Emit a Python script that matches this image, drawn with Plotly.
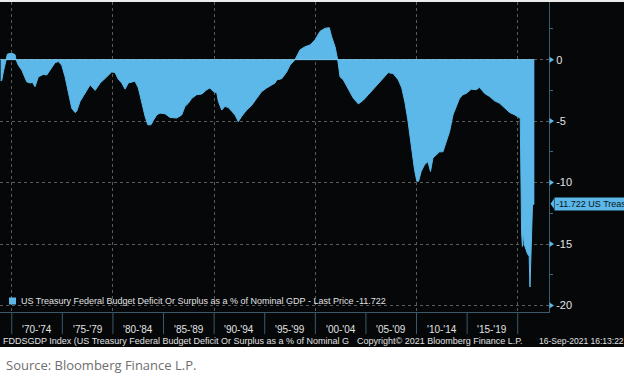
import plotly.graph_objects as go

# ---- data ----
years = [
    1968.90, 1969.01, 1969.17, 1969.44, 1969.57, 1969.80, 1970.10, 1970.33, 1970.42, 1970.65,
    1970.99, 1971.48, 1971.81, 1972.05, 1972.30, 1972.63, 1973.12, 1973.46, 1973.78, 1974.28,
    1974.60, 1974.94, 1975.27, 1975.59, 1975.93, 1976.25, 1976.42, 1976.75, 1977.25, 1977.75,
    1978.24, 1978.74, 1979.39, 1979.88, 1980.21, 1980.53, 1980.87, 1981.20, 1981.52, 1981.86,
    1982.18, 1982.51, 1982.85, 1983.17, 1983.44, 1983.76, 1983.99, 1984.33, 1984.65, 1985.15,
    1985.64, 1986.30, 1986.80, 1987.12, 1987.45, 1987.79, 1988.28, 1988.77, 1989.27, 1989.59,
    1989.92, 1990.26, 1990.42, 1990.75, 1991.08, 1991.40, 1991.74, 1992.07, 1992.39, 1992.73,
    1993.22, 1993.72, 1994.21, 1994.70, 1995.20, 1995.69, 1996.02, 1996.19, 1996.68, 1997.17,
    1997.50, 1997.99, 1998.49, 1998.98, 1999.48, 1999.97, 2000.46, 2000.96, 2001.38, 2001.62,
    2001.95, 2002.21, 2002.44, 2002.77, 2003.26, 2003.76, 2004.25, 2004.74, 2005.24, 2005.73,
    2006.23, 2006.72, 2007.21, 2007.71, 2008.20, 2008.54, 2008.86, 2009.14, 2009.47, 2009.80,
    2010.03, 2010.20, 2010.46, 2010.79, 2011.13, 2011.38, 2011.62, 2011.95, 2012.28, 2012.61,
    2012.94, 2013.27, 2013.60, 2013.92, 2014.25, 2014.58, 2014.91, 2015.41, 2015.90, 2016.23,
    2016.73, 2017.22, 2017.71, 2018.21, 2018.71, 2019.20, 2019.72, 2020.21, 2020.25, 2020.29,
    2020.38, 2020.46, 2020.55, 2020.63, 2020.71, 2020.80, 2020.88, 2020.96, 2021.05, 2021.13,
    2021.21, 2021.30, 2021.38, 2021.46, 2021.55, 2021.64,
]
values = [
    -1.7, -1.7, -1.0, -0.1, 0.45, 0.5, 0.5, 0.4, 0.0, -0.45,
    -0.85, -1.8, -1.9, -1.85, -2.2, -1.4, -1.2, -1.25, -0.85, -0.25,
    -0.15, -0.45, -1.4, -2.7, -3.95, -4.3, -4.2, -3.4, -2.7, -2.05,
    -2.5, -1.9, -1.4, -1.0, -1.05, -1.6, -1.9, -2.4, -1.9, -1.8,
    -1.75, -2.3, -3.55, -4.6, -5.3, -5.3, -4.95, -4.5, -4.35, -4.4,
    -4.7, -4.75, -4.5, -3.8, -3.55, -3.15, -2.85, -2.8, -2.45, -2.3,
    -2.6, -2.7, -3.4, -4.1, -3.8, -3.9, -4.2, -4.5, -5.05, -4.6,
    -4.1, -3.7, -3.15, -2.6, -2.3, -2.05, -1.9, -1.65, -1.55, -1.0,
    -0.45, 0.0, 0.8, 1.05, 1.2, 1.6, 2.3, 2.55, 2.6, 1.85,
    1.05, 0.0, -1.4, -1.65, -2.45, -3.15, -3.6, -3.3, -2.85, -2.4,
    -1.9, -1.5, -1.05, -1.15, -1.65, -2.3, -3.5, -4.9, -7.05, -8.95,
    -9.9, -9.9, -9.1, -8.55, -8.3, -9.1, -8.0, -7.75, -7.5, -7.5,
    -6.65, -5.85, -4.5, -3.8, -3.15, -2.85, -2.75, -2.4, -2.45, -2.25,
    -2.75, -3.0, -3.35, -3.55, -3.95, -4.3, -4.5, -4.75, -4.85, -10.9,
    -14.0, -15.2, -13.9, -15.0, -15.2, -15.5, -15.6, -15.8, -15.9, -16.0,
    -18.5, -16.2, -15.5, -11.8, -11.8, -11.722,
]
last_value = -11.722
y_ticks = [0, -5, -10, -15, -20]
grid_years = [1970, 1980, 1990, 2000, 2010, 2020]
band_edges = [1970, 1975, 1980, 1985, 1990, 1995, 2000, 2005, 2010, 2015, 2020]
band_labels = ["'70-'74", "'75-'79", "'80-'84", "'85-'89", "'90-'94",
               "'95-'99", "'00-'04", "'05-'09", "'10-'14", "'15-'19"]
legend_text = "US Treasury Federal Budget Deficit Or Surplus as a % of Nominal GDP - Last Price -11.722"
footer_left = "FDDSGDP Index (US Treasury Federal Budget Deficit Or Surplus as a % of Nominal G"
footer_mid = "Copyright\u00a9 2021 Bloomberg Finance L.P."
footer_right = "16-Sep-2021 16:13:22"
tag_text = "-11.722 US Treasu"
source_text = "Source: Bloomberg Finance L.P."

# ---- styling ----
W, H = 624, 377
ML, MR, MT, MB = 0, 75, 2, 65
PW, PH = W - ML - MR, H - MT - MB
BLUE = "#5bb8e8"
BG = "#050709"
AXC = "#3d5a6c"
GRID = "#5a5a5a"
TXT = "#e2e2e2"
FONT = "Liberation Sans, Arial, sans-serif"
Y0, Y1 = -20.53, 4.69
X0, X1 = 1968.84, 2023.09


def px_x(p):
    return (p - ML) / PW


def px_y(p):
    return (H - MB - p) / PH


fig = go.Figure()
fig.add_trace(go.Scatter(
    x=years, y=values, mode="lines", fill="tozeroy",
    line=dict(color=BLUE, width=1), fillcolor=BLUE,
    hoverinfo="skip", showlegend=False,
))

shapes = []
shapes.append(dict(type="rect", xref="paper", yref="paper", x0=-0.05, x1=1.3,
                   y0=-0.3, y1=px_y(347), fillcolor="white", line=dict(width=0), layer="above"))
shapes.append(dict(type="rect", xref="paper", yref="paper", x0=-0.05, x1=1.3,
                   y0=1.0, y1=1.05, fillcolor="#ececec", line=dict(width=0), layer="above"))
shapes.append(dict(type="line", xref="x", yref="y", x0=years[0], x1=years[-1], y0=0, y1=0,
                   line=dict(color="#7cc8ef", width=1), layer="above"))
for e in band_edges:
    shapes.append(dict(type="line", xref="x", yref="paper", x0=e, x1=e, y0=0, y1=px_y(334),
                       line=dict(color=AXC, width=1)))
for t in y_ticks:
    dy = 3 / (PH / (Y1 - Y0))
    xa, xb = px_x(PW + 0.5), px_x(PW + 5)
    shapes.append(dict(type="path", xref="paper", yref="y",
                       path=f"M {xa},{t - dy} L {xb},{t} L {xa},{t + dy} Z",
                       fillcolor=BLUE, line=dict(width=0)))
dy = 5 / (PH / (Y1 - Y0))
shapes.append(dict(type="path", xref="paper", yref="y",
                   path=f"M {px_x(PW + 1.5)},{last_value} L {px_x(PW + 5)},{last_value - dy} "
                        f"L {px_x(PW + 5)},{last_value + dy} Z",
                   fillcolor=BLUE, line=dict(width=0)))
shapes.append(dict(type="rect", xref="paper", yref="paper", x0=px_x(9), x1=px_x(16),
                   y0=px_y(304.5), y1=px_y(297.5), fillcolor=BLUE, line=dict(width=0)))

annotations = []
for i, lab in enumerate(band_labels):
    annotations.append(dict(x=band_edges[i] + 2.5, y=px_y(329.5), xref="x", yref="paper",
                            text=lab, showarrow=False, xanchor="center", yanchor="middle",
                            font=dict(family=FONT, size=10, color=TXT)))
annotations.append(dict(x=px_x(19), y=px_y(301), xref="paper", yref="paper", text=legend_text,
                        showarrow=False, xanchor="left", yanchor="middle",
                        font=dict(family=FONT, size=9, color=TXT)))
annotations.append(dict(x=px_x(1), y=px_y(341), xref="paper", yref="paper", text=footer_left,
                        showarrow=False, xanchor="left", yanchor="middle",
                        font=dict(family=FONT, size=9, color=TXT)))
annotations.append(dict(x=px_x(355), y=px_y(341), xref="paper", yref="paper", text=footer_mid,
                        showarrow=False, xanchor="left", yanchor="middle",
                        font=dict(family=FONT, size=9, color=TXT)))
annotations.append(dict(x=px_x(537), y=px_y(341), xref="paper", yref="paper", text=footer_right,
                        showarrow=False, xanchor="left", yanchor="middle",
                        font=dict(family=FONT, size=8.5, color=TXT)))
annotations.append(dict(x=px_x(PW + 5), y=last_value, xref="paper", yref="y",
                        text=tag_text, showarrow=False,
                        xanchor="left", yanchor="middle", bgcolor=BLUE, borderpad=1,
                        font=dict(family=FONT, size=9, color="#0a1520")))
annotations.append(dict(x=px_x(4), y=px_y(365), xref="paper", yref="paper", text=source_text,
                        showarrow=False, xanchor="left", yanchor="middle",
                        font=dict(family="Open Sans, Segoe UI, sans-serif", size=13, color="#6e6e6e")))

fig.update_layout(
    width=W, height=H,
    margin=dict(l=ML, r=MR, t=MT, b=MB, autoexpand=False),
    paper_bgcolor=BG, plot_bgcolor=BG,
    showlegend=False,
    shapes=shapes, annotations=annotations,
    xaxis=dict(range=[X0, X1], showticklabels=False, ticks="",
               showgrid=True, tickmode="array", tickvals=grid_years,
               gridcolor=GRID, griddash="dot", gridwidth=1,
               showline=True, linecolor=AXC, linewidth=1, zeroline=False, fixedrange=True),
    yaxis=dict(range=[Y0, Y1], side="right", tickmode="array", tickvals=y_ticks,
               ticktext=[str(t) for t in y_ticks],
               showgrid=True, gridcolor=GRID, griddash="dot", gridwidth=1,
               ticks="outside", ticklen=4, tickcolor="rgba(0,0,0,0)",
               minor=dict(tickmode="array", tickvals=[2.5, -2.5, -7.5, -12.5, -17.5],
                          ticks="outside", ticklen=3, tickcolor="#3d6a85", showgrid=False),
               tickfont=dict(family=FONT, size=11, color=TXT),
               showline=True, linecolor=AXC, linewidth=1, zeroline=False, fixedrange=True),
)

fig.write_html("out.html", config={"displayModeBar": False},
               post_script="document.body.style.margin='0';")
